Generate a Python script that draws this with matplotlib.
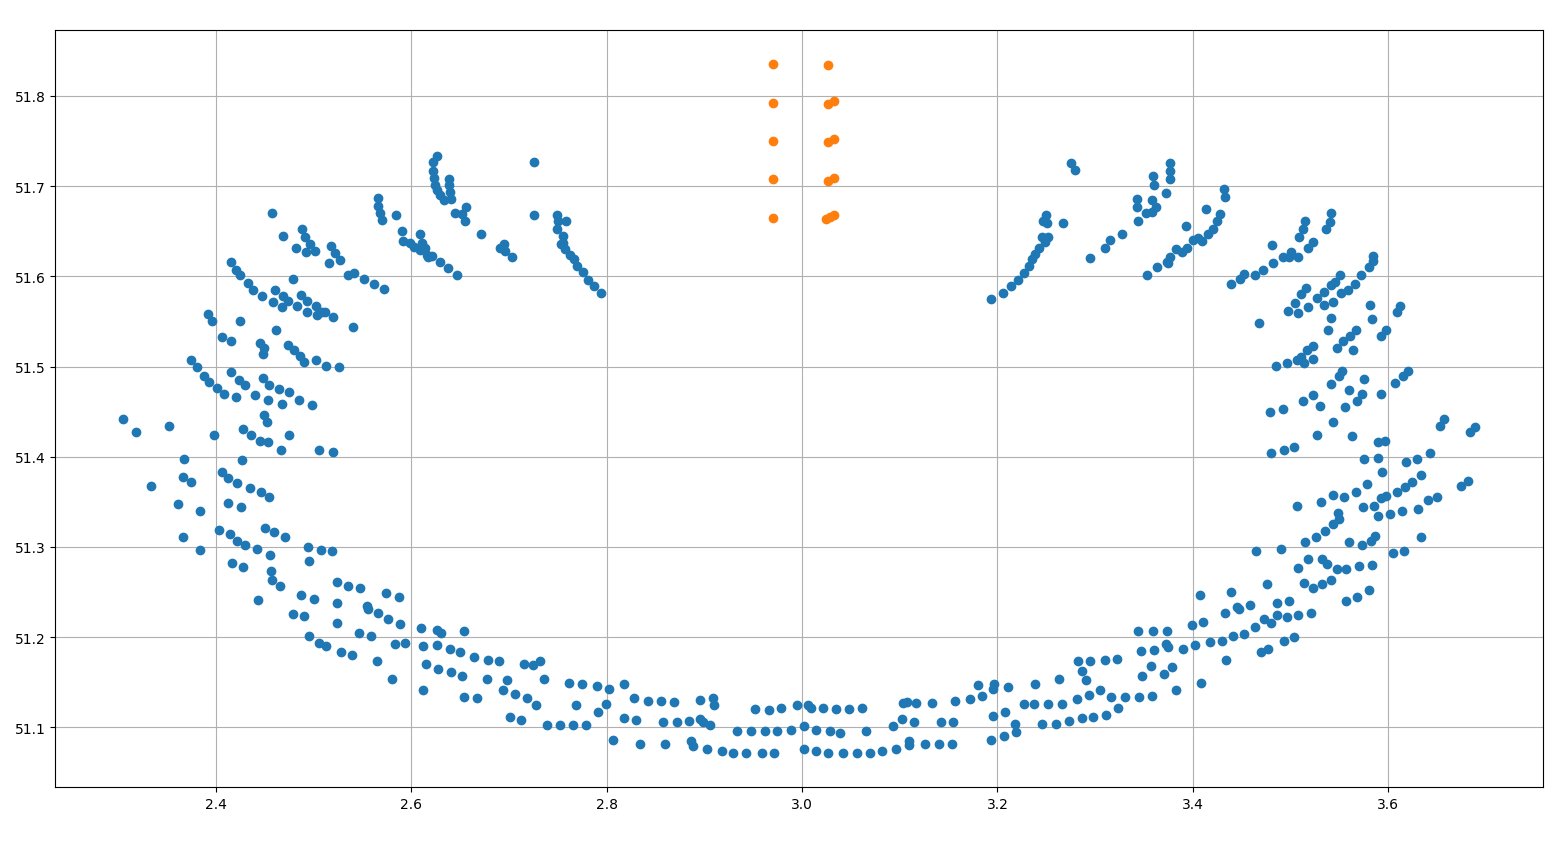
import numpy as np
import matplotlib
matplotlib.use("Agg")
import matplotlib.pyplot as plt

blue_points = [
(2.305,51.442),(2.319,51.427),(2.334,51.368),(2.352,51.434),(2.362,51.348),(2.367,51.311),(2.368,51.398),(2.367,51.378),
(2.375,51.372),(2.375,51.507),(2.381,51.499),(2.384,51.340),(2.384,51.297),(2.388,51.490),(2.392,51.558),(2.396,51.550),
(2.393,51.483),(2.398,51.424),(2.401,51.476),(2.404,51.319),(2.407,51.383),(2.407,51.533),(2.409,51.470),(2.413,51.349),
(2.413,51.376),(2.416,51.494),(2.416,51.616),(2.416,51.528),(2.415,51.314),(2.417,51.282),(2.421,51.607),(2.421,51.466),
(2.422,51.371),(2.422,51.307),(2.424,51.485),(2.425,51.550),(2.425,51.601),(2.426,51.344),(2.427,51.396),(2.428,51.278),
(2.428,51.431),(2.430,51.479),(2.430,51.302),(2.433,51.593),(2.435,51.365),(2.436,51.424),(2.438,51.585),(2.440,51.469),
(2.442,51.298),(2.443,51.241),(2.445,51.418),(2.445,51.526),(2.446,51.361),(2.448,51.578),(2.449,51.514),(2.450,51.446),
(2.449,51.487),(2.450,51.521),(2.451,51.321),(2.453,51.438),(2.454,51.416),(2.454,51.463),(2.455,51.355),(2.455,51.480),
(2.456,51.291),(2.457,51.273),(2.458,51.263),(2.458,51.670),(2.459,51.572),(2.460,51.316),(2.461,51.585),(2.462,51.540),
(2.465,51.475),(2.466,51.257),(2.467,51.407),(2.468,51.458),(2.469,51.645),(2.468,51.566),(2.469,51.578),(2.471,51.311),
(2.474,51.524),(2.474,51.573),(2.475,51.424),(2.475,51.472),(2.479,51.226),(2.479,51.597),(2.480,51.518),(2.482,51.631),
(2.483,51.567),(2.485,51.463),(2.486,51.512),(2.487,51.247),(2.487,51.579),(2.488,51.652),(2.490,51.505),(2.490,51.223),
(2.492,51.644),(2.493,51.627),(2.494,51.561),(2.494,51.573),(2.495,51.300),(2.496,51.284),(2.496,51.201),(2.497,51.636),
(2.499,51.457),(2.501,51.242),(2.502,51.628),(2.503,51.507),(2.503,51.567),(2.504,51.557),(2.506,51.194),(2.506,51.408),
(2.508,51.297),(2.509,51.561),(2.512,51.560),(2.513,51.501),(2.513,51.190),(2.516,51.615),(2.518,51.634),(2.520,51.405),
(2.520,51.555),(2.519,51.295),(2.522,51.626),(2.524,51.261),(2.524,51.238),(2.524,51.216),(2.526,51.499),(2.527,51.618),
(2.528,51.184),(2.536,51.257),(2.536,51.602),(2.540,51.180),(2.541,51.544),(2.542,51.604),(2.548,51.255),(2.547,51.205),
(2.552,51.597),(2.555,51.234),(2.556,51.231),(2.559,51.201),(2.562,51.592),(2.565,51.174),(2.566,51.687),(2.566,51.678),
(2.566,51.227),(2.568,51.670),(2.570,51.662),(2.572,51.586),(2.574,51.249),(2.576,51.220),(2.581,51.154),(2.584,51.192),
(2.585,51.668),(2.588,51.245),(2.589,51.215),(2.591,51.650),(2.592,51.639),(2.594,51.193),(2.599,51.637),(2.603,51.633),
(2.609,51.647),(2.609,51.629),(2.610,51.210),(2.611,51.637),(2.612,51.190),(2.612,51.141),(2.614,51.631),(2.615,51.170),
(2.616,51.624),(2.617,51.622),(2.622,51.727),(2.622,51.717),(2.623,51.709),(2.625,51.701),(2.627,51.696),(2.630,51.690),
(2.634,51.685),(2.627,51.733),(2.621,51.623),(2.627,51.191),(2.627,51.208),(2.628,51.165),(2.630,51.616),(2.631,51.205),
(2.638,51.609),(2.639,51.708),(2.639,51.701),(2.640,51.693),(2.641,51.686),(2.640,51.187),(2.641,51.161),(2.645,51.670),
(2.647,51.602),(2.650,51.183),(2.652,51.669),(2.652,51.157),(2.654,51.134),(2.654,51.207),(2.655,51.661),(2.656,51.677),
(2.664,51.178),(2.668,51.133),(2.672,51.647),(2.678,51.154),(2.679,51.175),(2.690,51.173),(2.691,51.631),(2.694,51.141),
(2.695,51.636),(2.696,51.628),(2.698,51.153),(2.701,51.111),(2.703,51.622),(2.706,51.137),(2.713,51.108),(2.716,51.170),
(2.719,51.133),(2.726,51.668),(2.726,51.727),(2.725,51.169),(2.728,51.125),(2.732,51.174),(2.736,51.154),(2.739,51.103),
(2.749,51.668),(2.749,51.653),(2.750,51.661),(2.752,51.103),(2.753,51.636),(2.755,51.645),(2.756,51.637),(2.758,51.630),
(2.759,51.661),(2.762,51.149),(2.763,51.624),(2.766,51.103),(2.767,51.619),(2.769,51.125),(2.770,51.611),(2.775,51.148),
(2.776,51.605),(2.779,51.103),(2.781,51.596),(2.787,51.589),(2.790,51.146),(2.791,51.117),(2.794,51.581),(2.799,51.126),
(2.803,51.142),(2.807,51.086),(2.818,51.148),(2.818,51.110),(2.828,51.132),(2.830,51.108),(2.834,51.082),(2.842,51.129),
(2.856,51.129),(2.858,51.106),(2.860,51.082),(2.872,51.106),(2.869,51.128),(2.884,51.107),(2.886,51.085),(2.889,51.079),
(2.896,51.130),(2.896,51.109),(2.899,51.106),(2.903,51.076),(2.906,51.103),(2.909,51.132),(2.910,51.125),(2.918,51.074),
(2.929,51.072),(2.934,51.096),(2.943,51.072),(2.948,51.096),(2.952,51.120),(2.959,51.072),(2.962,51.096),(2.966,51.119),
(2.971,51.072),(2.974,51.096),(2.979,51.121),(2.989,51.097),(2.995,51.125),(3.002,51.076),(3.002,51.101),(3.006,51.125),
(3.009,51.121),(3.014,51.074),(3.014,51.097),(3.021,51.121),(3.027,51.072),(3.029,51.096),(3.035,51.120),(3.039,51.094),
(3.042,51.072),(3.048,51.120),(3.056,51.072),(3.061,51.121),(3.065,51.096),(3.070,51.072),(3.082,51.074),(3.093,51.101),
(3.096,51.076),(3.102,51.109),(3.103,51.127),(3.107,51.128),(3.109,51.080),(3.110,51.085),(3.115,51.106),(3.117,51.127),
(3.126,51.082),(3.133,51.127),(3.140,51.082),(3.142,51.106),(3.153,51.082),(3.155,51.106),(3.157,51.129),(3.172,51.131),
(3.180,51.147),(3.184,51.135),(3.193,51.086),(3.195,51.143),(3.195,51.113),(3.196,51.148),(3.207,51.090),(3.208,51.117),
(3.211,51.145),(3.218,51.104),(3.219,51.095),(3.227,51.126),(3.237,51.126),(3.238,51.148),(3.246,51.104),(3.252,51.126),
(3.260,51.104),(3.263,51.154),(3.266,51.126),(3.273,51.107),(3.281,51.131),(3.282,51.173),(3.286,51.110),(3.287,51.162),
(3.291,51.153),(3.294,51.136),(3.295,51.173),(3.298,51.111),(3.305,51.141),(3.310,51.175),(3.311,51.114),(3.316,51.134),
(3.322,51.176),(3.323,51.121),(3.330,51.134),(3.344,51.207),(3.345,51.134),(3.347,51.185),(3.348,51.157),(3.357,51.168),
(3.358,51.135),(3.359,51.207),(3.360,51.186),(3.370,51.159),(3.372,51.192),(3.373,51.207),(3.374,51.189),(3.379,51.167),
(3.383,51.141),(3.390,51.187),(3.399,51.213),(3.402,51.191),(3.407,51.247),(3.410,51.217),(3.408,51.149),(3.417,51.195),
(3.430,51.196),(3.433,51.227),(3.434,51.175),(3.439,51.250),(3.441,51.201),(3.445,51.233),(3.447,51.231),(3.452,51.204),
(3.458,51.236),(3.463,51.211),(3.465,51.295),(3.470,51.183),(3.473,51.220),(3.476,51.259),(3.477,51.187),(3.480,51.216),
(3.486,51.238),(3.486,51.224),(3.490,51.298),(3.493,51.196),(3.496,51.222),(3.498,51.240),(3.503,51.200),(3.506,51.345),
(3.507,51.224),(3.507,51.277),(3.514,51.260),(3.515,51.305),(3.518,51.287),(3.521,51.227),(3.523,51.254),(3.526,51.311),
(3.531,51.350),(3.532,51.259),(3.532,51.287),(3.535,51.318),(3.537,51.281),(3.541,51.263),(3.543,51.358),(3.543,51.325),
(3.547,51.276),(3.549,51.331),(3.548,51.338),(3.555,51.355),(3.557,51.275),(3.557,51.240),(3.560,51.306),(3.567,51.361),
(3.568,51.245),(3.570,51.279),(3.573,51.302),(3.574,51.344),(3.575,51.397),(3.578,51.370),(3.580,51.252),(3.582,51.307),
(3.585,51.345),(3.583,51.280),(3.586,51.312),(3.589,51.334),(3.589,51.399),(3.592,51.354),(3.593,51.383),(3.596,51.418),
(3.598,51.357),(3.602,51.336),(3.605,51.293),(3.609,51.361),(3.614,51.340),(3.616,51.296),(3.617,51.366),(3.618,51.394),
(3.624,51.372),(3.629,51.398),(3.630,51.342),(3.633,51.311),(3.633,51.380),(3.640,51.352),(3.643,51.404),(3.650,51.355),
(3.653,51.434),(3.657,51.442),(3.674,51.367),(3.681,51.373),(3.683,51.427),(3.689,51.433),
(3.193,51.575),(3.206,51.581),(3.214,51.589),(3.221,51.596),(3.227,51.604),(3.232,51.612),(3.235,51.619),(3.238,51.625),
(3.243,51.632),(3.246,51.644),(3.247,51.661),(3.249,51.638),(3.250,51.668),(3.251,51.659),(3.252,51.644),(3.267,51.659),
(3.275,51.726),(3.279,51.718),(3.295,51.620),(3.310,51.631),(3.315,51.640),(3.327,51.647),(3.343,51.677),(3.344,51.661),
(3.343,51.686),(3.352,51.670),(3.353,51.602),(3.358,51.671),(3.358,51.685),(3.359,51.711),(3.360,51.701),(3.363,51.610),
(3.362,51.677),(3.372,51.692),(3.373,51.616),(3.377,51.726),(3.377,51.717),(3.377,51.708),(3.374,51.615),(3.377,51.622),
(3.383,51.630),(3.389,51.627),(3.393,51.656),(3.394,51.632),(3.400,51.640),(3.405,51.642),(3.409,51.639),(3.413,51.675),
(3.415,51.647),(3.421,51.653),(3.425,51.661),(3.428,51.669),(3.432,51.697),(3.433,51.688),(3.439,51.591),(3.448,51.597),
(3.452,51.603),(3.463,51.601),(3.468,51.548),(3.472,51.607),(3.479,51.450),(3.480,51.404),(3.481,51.635),(3.482,51.615),
(3.485,51.501),(3.492,51.621),(3.492,51.453),(3.493,51.408),(3.496,51.504),(3.498,51.621),(3.497,51.562),(3.500,51.627),
(3.503,51.411),(3.504,51.570),(3.506,51.507),(3.508,51.559),(3.508,51.622),(3.509,51.644),(3.511,51.511),(3.511,51.580),
(3.513,51.653),(3.513,51.462),(3.515,51.661),(3.514,51.504),(3.516,51.587),(3.517,51.518),(3.518,51.566),(3.518,51.631),
(3.523,51.469),(3.523,51.523),(3.523,51.508),(3.523,51.638),(3.527,51.576),(3.527,51.424),(3.530,51.456),(3.534,51.568),
(3.534,51.583),(3.536,51.652),(3.538,51.540),(3.540,51.660),(3.541,51.590),(3.541,51.481),(3.541,51.554),(3.541,51.670),
(3.543,51.438),(3.543,51.572),(3.545,51.594),(3.547,51.521),(3.549,51.490),(3.551,51.581),(3.550,51.602),(3.553,51.495),
(3.554,51.528),(3.556,51.455),(3.559,51.585),(3.560,51.474),(3.561,51.534),(3.563,51.423),(3.564,51.518),(3.566,51.592),
(3.567,51.540),(3.568,51.462),(3.572,51.602),(3.573,51.470),(3.575,51.486),(3.580,51.610),(3.581,51.568),(3.583,51.553),
(3.584,51.617),(3.584,51.623),(3.589,51.416),(3.592,51.534),(3.592,51.470),(3.598,51.541),(3.607,51.482),(3.609,51.560),
(3.612,51.567),(3.615,51.489),(3.620,51.495),
]

orange_x = [2.970, 2.970, 2.970, 2.970, 2.970, 3.027, 3.027, 3.033, 3.027, 3.033, 3.027, 3.033, 3.025, 3.029, 3.033]
orange_y = [51.835, 51.792, 51.750, 51.708, 51.665, 51.834, 51.791, 51.794, 51.749, 51.752, 51.706, 51.709, 51.664, 51.666, 51.668]

blue_x = [p[0] for p in blue_points]
blue_y = [p[1] for p in blue_points]

fig = plt.figure(figsize=(15.64, 8.45), dpi=100)
ax = fig.add_axes([0.0352, 0.0675, 0.9514, 0.8958])
ax.scatter(blue_x, blue_y, color="#1f77b4", zorder=2)
ax.scatter(orange_x, orange_y, color="#ff7f0e", zorder=2)
ax.grid(True)
ax.set_axisbelow(True)
fig.savefig("out.png", dpi=100)
